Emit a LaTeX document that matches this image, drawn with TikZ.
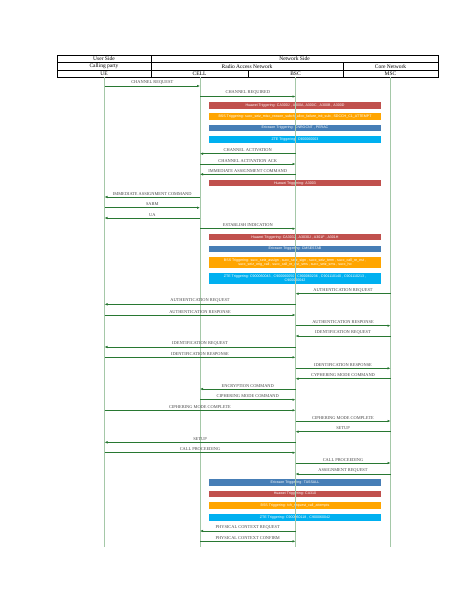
\documentclass[tikz,border=0pt]{standalone}
\usepackage{fontspec}
\setmainfont{Liberation Serif}
\newfontfamily\boxfont{Liberation Sans}
\usetikzlibrary{arrows.meta}
\definecolor{msggreen}{RGB}{40,120,50}
\definecolor{lifegreen}{RGB}{165,200,168}
\definecolor{huawei}{RGB}{192,80,77}
\definecolor{bss}{RGB}{255,165,0}
\definecolor{ericsson}{RGB}{70,126,182}
\definecolor{zte}{RGB}{0,176,240}
\definecolor{lbl}{RGB}{70,70,70}
\tikzset{
  hdr/.style={draw=black, line width=0.5pt, inner sep=0pt, outer sep=0pt, font=\fontsize{5.5}{6}\selectfont},
  life/.style={draw=lifegreen, line width=0.7pt},
  msgline/.style={draw=msggreen, line width=0.6pt, -{Latex[length=3pt,width=2.6pt]}},
  msglabel/.style={above, inner sep=1.6pt, text=lbl, font=\fontsize{4.4}{5}\selectfont},
  trig/.style={inner sep=0pt, minimum width=172pt, text=white, align=center, font=\boxfont\fontsize{3.6}{4.2}\selectfont},
}
\newcommand\msg[5]{%
  \coordinate (#1a) at (#3 |- 0,#2);
  \coordinate (#1b) at (#4 |- 0,#2);
  \draw[msgline] (#1a) -- node[msglabel]{#5} (#1b);}
\newcommand\trigbox[5]{%
  \node[trig, fill=#3, minimum height=#4pt] (#1) at (295,#2) {#5};}
\begin{document}
\begin{tikzpicture}[x=1pt,y=-1pt]
\useasboundingbox (0,0) rectangle (474,613);
% header table
\node[hdr, minimum width=94pt, minimum height=7.5pt] (us) at (104,58.75) {User Side};
\node[hdr, minimum width=287pt, minimum height=7.5pt] (ns) at (294.5,58.75) {Network Side};
\node[hdr, minimum width=94pt, minimum height=7.5pt] (cp) at (104,66.25) {Calling party};
\node[hdr, minimum width=192pt, minimum height=7.5pt] (ran) at (247,66.25) {Radio Access Network};
\node[hdr, minimum width=95pt, minimum height=7.5pt] (cn) at (390.5,66.25) {Core Network};
\node[hdr, minimum width=94pt, minimum height=7pt] (ue) at (104,73.5) {UE};
\node[hdr, minimum width=97pt, minimum height=7pt] (cell) at (199.5,73.5) {CELL};
\node[hdr, minimum width=95pt, minimum height=7pt] (bsc) at (295.5,73.5) {BSC};
\node[hdr, minimum width=95pt, minimum height=7pt] (msc) at (390.5,73.5) {MSC};
% lifeline ends
\coordinate (UEt) at (104.5,77);  \coordinate (UEe) at (104.5,547);
\coordinate (CELLt) at (200,77); \coordinate (CELLe) at (200,547);
\coordinate (BSCt) at (295.5,77); \coordinate (BSCe) at (295.5,547);
\coordinate (MSCt) at (390.5,77); \coordinate (MSCe) at (390.5,547);
% triggering boxes
\trigbox{t1}{105.2}{huawei}{6.8}{Huawei Triggering: CA300J , A300A, A300C , A300B , A300D}
\trigbox{t2}{116.6}{bss}{6.8}{BSS Triggering: succ\_seiz\_misc\_reason\_subch\_alloc\_failure\_init\_sub , SDCCH\_C1\_ATTEMPT}
\trigbox{t3}{128}{ericsson}{6.8}{Ericsson Triggering: CNROCNT , PERAC}
\trigbox{t4}{139.6}{zte}{6.8}{ZTE Triggering: C900060003}
\trigbox{t5}{183.2}{huawei}{6.4}{Huawei Triggering: A3003}
\trigbox{t6}{237.2}{huawei}{6.4}{Huawei Triggering: CA303J , A3030J , A301F , A301H}
\trigbox{t7}{248.7}{ericsson}{6.2}{Ericsson Triggering: CMSESTAB}
\trigbox{t8}{262.5}{bss}{10.4}{BSS Triggering: succ\_seiz\_assign , succ\_seiz\_sign , succ\_seiz\_term , succ\_call\_re\_est ,\\ succ\_seiz\_orig\_call , succ\_call\_re\_est\_sms , succ\_seiz\_sms , succ\_ho}
\trigbox{t9}{278.2}{zte}{11}{ZTE Triggering: C900060043 , C900060050 , C900060236 , C901110140 , C901110213 ,\\ C900060042}
\trigbox{t10}{482.3}{ericsson}{6.7}{Ericsson Triggering: TASSALL}
\trigbox{t11}{494}{huawei}{6.7}{Huawei Triggering: CA310}
\trigbox{t12}{505.6}{bss}{6.7}{BSS Triggering: tch\_request\_call\_attempts}
\trigbox{t13}{517.3}{zte}{6.7}{ZTE Triggering: C900060118 , C900060042}
% lifelines
\draw[life] (UEt) -- (UEe);
\draw[life] (CELLt) -- (CELLe);
\draw[life] (BSCt) -- (BSCe);
\draw[life] (MSCt) -- (MSCe);
% messages
\msg{m1}{86}{UEt}{CELLt}{CHANNEL REQUEST}
\msg{m2}{96.5}{CELLt}{BSCt}{CHANNEL REQUIRED}
\msg{m3}{153.7}{BSCt}{CELLt}{CHANNEL ACTIVATION}
\msg{m4}{164}{CELLt}{BSCt}{CHANNEL ACTIVATION ACK}
\msg{m5}{174.3}{BSCt}{CELLt}{IMMEDIATE ASSIGNMENT COMMAND}
\msg{m6}{197}{CELLt}{UEt}{IMMEDIATE ASSIGNMENT COMMAND}
\msg{m7}{207.7}{UEt}{CELLt}{SABM}
\msg{m8}{218}{CELLt}{UEt}{UA}
\msg{m9}{228.7}{CELLt}{BSCt}{ESTABLISH INDICATION}
\msg{m10}{293.7}{MSCt}{BSCt}{AUTHENTICATION REQUEST}
\msg{m11}{304.3}{BSCt}{UEt}{AUTHENTICATION REQUEST}
\msg{m12}{315}{UEt}{BSCt}{AUTHENTICATION RESPONSE}
\msg{m13}{325.7}{BSCt}{MSCt}{AUTHENTICATION RESPONSE}
\msg{m14}{336}{MSCt}{BSCt}{IDENTIFICATION REQUEST}
\msg{m15}{347}{BSCt}{UEt}{IDENTIFICATION REQUEST}
\msg{m16}{357.3}{UEt}{BSCt}{IDENTIFICATION RESPONSE}
\msg{m17}{368.3}{BSCt}{MSCt}{IDENTIFICATION RESPONSE}
\msg{m18}{378.7}{MSCt}{BSCt}{CYPHERING MODE COMMAND}
\msg{m19}{389}{BSCt}{CELLt}{ENCRYPTION COMMAND}
\msg{m20}{399.7}{CELLt}{BSCt}{CIPHERING MODE COMMAND}
\msg{m21}{410.3}{UEt}{BSCt}{CIPHERING MODE COMPLETE}
\msg{m22}{421}{BSCt}{MSCt}{CIPHERING MODE COMPLETE}
\msg{m23}{431.7}{MSCt}{BSCt}{SETUP}
\msg{m24}{442.3}{BSCt}{UEt}{SETUP}
\msg{m25}{452.7}{UEt}{BSCt}{CALL PROCEEDING}
\msg{m26}{463}{BSCt}{MSCt}{CALL PROCEEDING}
\msg{m27}{474}{MSCt}{BSCt}{ASSIGNMENT REQUEST}
\msg{m28}{531}{BSCt}{CELLt}{PHYSICAL CONTEXT REQUEST}
\msg{m29}{541.3}{CELLt}{BSCt}{PHYSICAL CONTEXT CONFIRM}
\end{tikzpicture}
\end{document}
